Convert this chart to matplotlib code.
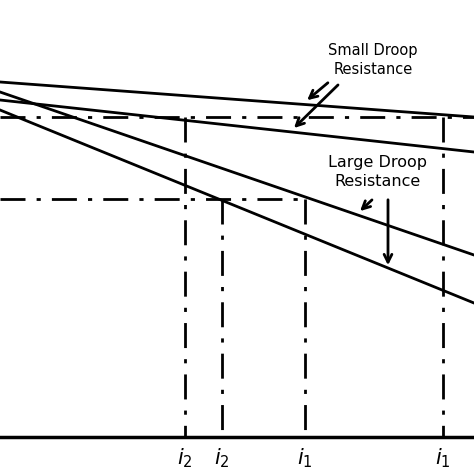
import matplotlib.pyplot as plt

# droop lines: (x0, y0, x1, y1) in image-like units (y grows downward)
droop_lines = [(0, 82, 474, 117), (0, 100, 474, 152), (0, 92, 474, 255), (0, 110, 474, 303)]
h_levels = [(117, 0, 474), (199, 0, 305)]
v_lines = [(185, 117), (222, 199), (305, 199), (443, 117)]
tick_labels = ["$i_2$", "$i_2$", "$i_1$", "$i_1$"]
axis_y = 437

fig = plt.figure(figsize=(4.74, 4.74), dpi=100)
ax = fig.add_axes([0, 0, 1, 1])
ax.set_xlim(0, 474)
ax.set_ylim(474, 0)
ax.axis("off")

for x0, y0, x1, y1 in droop_lines:
    ax.plot([x0, x1], [y0, y1], color="black", lw=2)

dash = (0, (9, 4, 1.5, 4))
for y, xa, xb in h_levels:
    ax.plot([xa, xb], [y, y], color="black", lw=2, linestyle=dash)
for x, ytop in v_lines:
    ax.plot([x, x], [ytop, axis_y], color="black", lw=2, linestyle=dash)

ax.plot([0, 474], [axis_y, axis_y], color="black", lw=2.5)
for (x, _), lab in zip(v_lines, tick_labels):
    ax.text(x, 458, lab, ha="center", va="center", fontsize=15, family="DejaVu Serif")

ax.text(373, 60, "Small Droop\nResistance", ha="center", va="center", fontsize=10.5,
        linespacing=1.3)
ax.text(378, 172, "Large Droop\nResistance", ha="center", va="center", fontsize=11.5,
        linespacing=1.3)

arrow = dict(arrowstyle="->", color="black", lw=2, mutation_scale=14)
ax.annotate("", xy=(305, 102), xytext=(330, 81), arrowprops=arrow)
ax.annotate("", xy=(292, 130), xytext=(340, 83), arrowprops=arrow)
ax.annotate("", xy=(358, 213), xytext=(374, 198), arrowprops=arrow)
ax.annotate("", xy=(388, 268), xytext=(388, 197), arrowprops=arrow)

fig.savefig("out.png", dpi=100)
